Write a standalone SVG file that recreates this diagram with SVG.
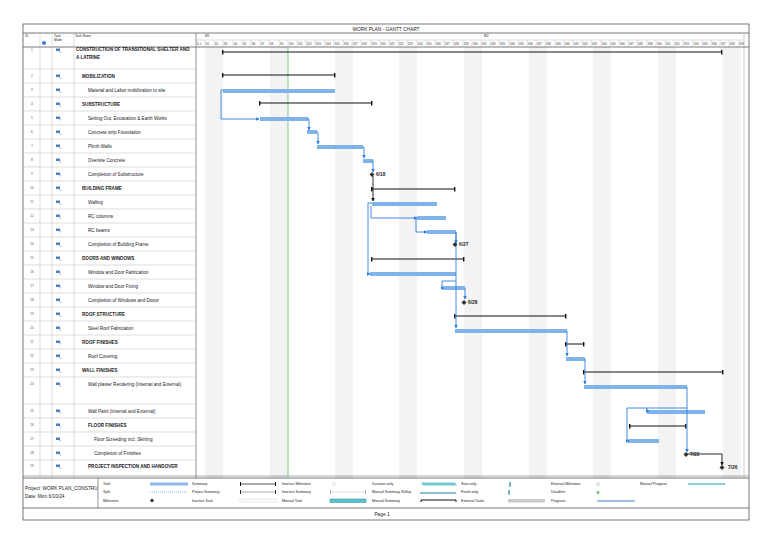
<svg xmlns="http://www.w3.org/2000/svg" width="768" height="543" viewBox="0 0 768 543">
<style>
text{font-family:"Liberation Sans",Arial,sans-serif;fill:#222}
.t{font-size:4.6px}
.b{font-size:4.6px;font-weight:bold}
.s{font-size:3.2px;fill:#555}
.l{font-size:3.6px;fill:#333}
.grid{stroke:#bbb;stroke-width:0.5}
.task{fill:#7fb3ea}
.sum{stroke:#111;stroke-width:1;fill:none}
.cap{fill:#111}
.con{stroke:#2f7fe0;stroke-width:0.9;fill:none}
.conk{stroke:#111;stroke-width:0.9;fill:none}
.ms{fill:#333}
.ml{font-size:4.8px;font-weight:bold}
</style>
<defs>
<marker id="a" markerWidth="4" markerHeight="4" refX="3.5" refY="2" orient="auto"><path d="M0,0 L4,2 L0,4z" fill="#2f7fe0"/></marker>
<marker id="k" markerWidth="4" markerHeight="4" refX="3.5" refY="2" orient="auto"><path d="M0,0 L4,2 L0,4z" fill="#111"/></marker>
<g id="ic"><rect x="0" y="-1.5" width="4" height="2.5" fill="#4a7fc0"/><path d="M3.5,1 L5,2.5" stroke="#4a7fc0" stroke-width="0.8"/></g>
</defs>
<rect width="768" height="543" fill="#fff"/>
<!-- frame -->
<rect x="23" y="24" width="726" height="496" fill="none" stroke="#555" stroke-width="0.8"/>
<line x1="23" y1="33" x2="749" y2="33" stroke="#555" stroke-width="0.8"/>
<text x="386" y="30.5" text-anchor="middle" style="font-size:4.8px">WORK PLAN - GANTT CHART</text>
<!-- chart background bands -->
<g fill="#f3f3f3">
<rect x="205" y="47" width="18" height="431"/><rect x="270" y="47" width="18" height="431"/><rect x="335" y="47" width="18" height="431"/><rect x="399" y="47" width="18" height="431"/><rect x="464" y="47" width="18" height="431"/><rect x="529" y="47" width="18" height="431"/><rect x="593" y="47" width="18" height="431"/><rect x="658" y="47" width="18" height="431"/><rect x="723" y="47" width="18" height="431"/>
</g>
<line x1="744" y1="33" x2="744" y2="478" stroke="#aaa" stroke-width="0.6"/>
<!-- header -->
<line x1="23" y1="47" x2="749" y2="47" stroke="#555" stroke-width="0.8"/>
<g class="s">
<text x="25" y="37">ID</text>
<text x="54" y="37">Task</text><text x="54" y="41">Mode</text>
<text x="75" y="37">Task Name</text>
<text x="205" y="37">M1</text>
<text x="484" y="37">M2</text>
</g>
<circle cx="44" cy="43" r="2" fill="#3b7dd8"/>
<line x1="196" y1="40" x2="744" y2="40" class="grid"/>
<g id="days" class="s" style="font-size:2.6px">
<text x="197" y="45">D-1</text><text x="206" y="45">D1</text><text x="215" y="45">D2</text><text x="224" y="45">D3</text><text x="234" y="45">D4</text><text x="243" y="45">D5</text><text x="252" y="45">D6</text><text x="261" y="45">D7</text><text x="270" y="45">D8</text><text x="280" y="45">D9</text><text x="289" y="45">D10</text><text x="298" y="45">D11</text><text x="307" y="45">D12</text><text x="316" y="45">D13</text><text x="326" y="45">D14</text><text x="335" y="45">D15</text><text x="344" y="45">D16</text><text x="353" y="45">D17</text><text x="362" y="45">D18</text><text x="372" y="45">D19</text><text x="381" y="45">D20</text><text x="390" y="45">D21</text><text x="399" y="45">D22</text><text x="408" y="45">D23</text><text x="418" y="45">D24</text><text x="427" y="45">D25</text><text x="436" y="45">D26</text><text x="445" y="45">D27</text><text x="454" y="45">D28</text><text x="464" y="45">D29</text><text x="473" y="45">D30</text><text x="482" y="45">D31</text><text x="491" y="45">D32</text><text x="500" y="45">D33</text><text x="510" y="45">D34</text><text x="519" y="45">D35</text><text x="528" y="45">D36</text><text x="537" y="45">D37</text><text x="546" y="45">D38</text><text x="556" y="45">D39</text><text x="565" y="45">D40</text><text x="574" y="45">D41</text><text x="583" y="45">D42</text><text x="592" y="45">D43</text><text x="602" y="45">D44</text><text x="611" y="45">D45</text><text x="620" y="45">D46</text><text x="629" y="45">D47</text><text x="638" y="45">D48</text><text x="648" y="45">D49</text><text x="657" y="45">D50</text><text x="666" y="45">D51</text><text x="675" y="45">D52</text><text x="684" y="45">D53</text><text x="694" y="45">D54</text><text x="703" y="45">D55</text><text x="712" y="45">D56</text><text x="721" y="45">D57</text><text x="730" y="45">D58</text><text x="739" y="45">D59</text>
</g>
<path class="grid" d="M205,40V47M214,40V47M223,40V47M233,40V47M242,40V47M251,40V47M260,40V47M269,40V47M279,40V47M288,40V47M297,40V47M306,40V47M315,40V47M325,40V47M334,40V47M343,40V47M352,40V47M361,40V47M371,40V47M380,40V47M389,40V47M398,40V47M407,40V47M417,40V47M426,40V47M435,40V47M444,40V47M453,40V47M463,40V47M472,40V47M481,40V47M490,40V47M499,40V47M509,40V47M518,40V47M527,40V47M536,40V47M545,40V47M555,40V47M564,40V47M573,40V47M582,40V47M591,40V47M601,40V47M610,40V47M619,40V47M628,40V47M637,40V47M647,40V47M656,40V47M665,40V47M674,40V47M683,40V47M693,40V47M702,40V47M711,40V47M720,40V47M729,40V47M739,40V47"/>
<!-- table grid -->
<g class="grid">
<line x1="40" y1="33" x2="40" y2="478"/><line x1="52" y1="33" x2="52" y2="478"/><line x1="74" y1="33" x2="74" y2="478"/>
<line x1="196" y1="33" x2="196" y2="478" stroke="#777" stroke-width="0.8"/>
<path d="M23,69H196M23,83H196M23,97H196M23,111H196M23,125H196M23,139H196M23,153H196M23,167H196M23,181H196M23,195H196M23,209H196M23,223H196M23,237H196M23,251H196M23,265H196M23,279H196M23,293H196M23,307H196M23,321H196M23,335H196M23,349H196M23,363H196M23,377H196M23,404H196M23,418H196M23,432H196M23,446H196M23,460H196"/>
</g>
<line x1="23" y1="476" x2="749" y2="476" stroke="#777" stroke-width="0.6"/>
<line x1="23" y1="478" x2="749" y2="478" stroke="#555" stroke-width="0.8"/>
<!-- rows -->
<g id="rows">
<g id="r1"><text class="s" x="32" y="51" text-anchor="middle">1</text><use href="#ic" x="56" y="50"/><text class="b" x="76" y="51">CONSTRUCTION OF TRANSITIONAL SHELTER AND</text><text class="b" x="76" y="59">A LATRINE</text></g>
<g id="r2"><text class="s" x="32" y="77" text-anchor="middle">2</text><use href="#ic" x="56" y="76"/><text class="b" x="82" y="78">MOBILIZATION</text></g>
<g id="r3"><text class="s" x="32" y="91" text-anchor="middle">3</text><use href="#ic" x="56" y="90"/><text class="t" x="88" y="92">Material and Labor mobilization to site</text></g>
<g id="r4"><text class="s" x="32" y="105" text-anchor="middle">4</text><use href="#ic" x="56" y="104"/><text class="b" x="82" y="106">SUBSTRUCTURE</text></g>
<g id="r5"><text class="s" x="32" y="119" text-anchor="middle">5</text><use href="#ic" x="56" y="118"/><text class="t" x="88" y="120">Setting Out, Excavation &amp; Earth Works</text></g>
<g id="r6"><text class="s" x="32" y="133" text-anchor="middle">6</text><use href="#ic" x="56" y="132"/><text class="t" x="88" y="134">Concrete strip Foundation</text></g>
<g id="r7"><text class="s" x="32" y="147" text-anchor="middle">7</text><use href="#ic" x="56" y="146"/><text class="t" x="88" y="148">Plinth Walls</text></g>
<g id="r8"><text class="s" x="32" y="161" text-anchor="middle">8</text><use href="#ic" x="56" y="160"/><text class="t" x="88" y="162">Oversite Concrete</text></g>
<g id="r9"><text class="s" x="32" y="175" text-anchor="middle">9</text><use href="#ic" x="56" y="174"/><text class="t" x="88" y="176">Completion of Substructure</text></g>
<g id="r10"><text class="s" x="32" y="189" text-anchor="middle">10</text><use href="#ic" x="56" y="188"/><text class="b" x="82" y="190">BUILDING FRAME</text></g>
<g id="r11"><text class="s" x="32" y="203" text-anchor="middle">11</text><use href="#ic" x="56" y="202"/><text class="t" x="88" y="204">Walling</text></g>
<g id="r12"><text class="s" x="32" y="217" text-anchor="middle">12</text><use href="#ic" x="56" y="216"/><text class="t" x="88" y="218">RC columns</text></g>
<g id="r13"><text class="s" x="32" y="231" text-anchor="middle">13</text><use href="#ic" x="56" y="230"/><text class="t" x="88" y="232">RC beams</text></g>
<g id="r14"><text class="s" x="32" y="245" text-anchor="middle">14</text><use href="#ic" x="56" y="244"/><text class="t" x="88" y="246">Completion of Building Frame</text></g>
<g id="r15"><text class="s" x="32" y="259" text-anchor="middle">15</text><use href="#ic" x="56" y="258"/><text class="b" x="82" y="260">DOORS AND WINDOWS</text></g>
<g id="r16"><text class="s" x="32" y="273" text-anchor="middle">16</text><use href="#ic" x="56" y="272"/><text class="t" x="88" y="274">Window and Door Fabrication</text></g>
<g id="r17"><text class="s" x="32" y="287" text-anchor="middle">17</text><use href="#ic" x="56" y="286"/><text class="t" x="88" y="288">Window and Door Fixing</text></g>
<g id="r18"><text class="s" x="32" y="301" text-anchor="middle">18</text><use href="#ic" x="56" y="300"/><text class="t" x="88" y="302">Completion of Windows and Dooor</text></g>
<g id="r19"><text class="s" x="32" y="315" text-anchor="middle">19</text><use href="#ic" x="56" y="314"/><text class="b" x="82" y="316">ROOF STRUCTURE</text></g>
<g id="r20"><text class="s" x="32" y="329" text-anchor="middle">20</text><use href="#ic" x="56" y="328"/><text class="t" x="88" y="330">Steel Roof Fabrication</text></g>
<g id="r21"><text class="s" x="32" y="343" text-anchor="middle">21</text><use href="#ic" x="56" y="342"/><text class="b" x="82" y="344">ROOF FINISHES</text></g>
<g id="r22"><text class="s" x="32" y="357" text-anchor="middle">22</text><use href="#ic" x="56" y="356"/><text class="t" x="88" y="358">Roof Covering</text></g>
<g id="r23"><text class="s" x="32" y="371" text-anchor="middle">23</text><use href="#ic" x="56" y="370"/><text class="b" x="82" y="372">WALL FINISHES</text></g>
<g id="r24"><text class="s" x="32" y="385" text-anchor="middle">24</text><use href="#ic" x="56" y="384"/><text class="t" x="88" y="386">Wall plaster Rendering (Internal and External)</text></g>
<g id="r25"><text class="s" x="32" y="412" text-anchor="middle">25</text><use href="#ic" x="56" y="411"/><text class="t" x="88" y="413">Wall Paint (Internal and External)</text></g>
<g id="r26"><text class="s" x="32" y="426" text-anchor="middle">26</text><use href="#ic" x="56" y="425"/><text class="b" x="88" y="427">FLOOR FINISHES</text></g>
<g id="r27"><text class="s" x="32" y="440" text-anchor="middle">27</text><use href="#ic" x="56" y="439"/><text class="t" x="94" y="441">Floor Screeding incl. Skirting</text></g>
<g id="r28"><text class="s" x="32" y="454" text-anchor="middle">28</text><use href="#ic" x="56" y="453"/><text class="t" x="94" y="455">Completion of Finishes</text></g>
<g id="r29"><text class="s" x="32" y="467" text-anchor="middle">29</text><use href="#ic" x="56" y="466"/><text class="b" x="88" y="468">PROJECT INSPECTION AND HANDOVER</text></g>
</g>
<!-- status line -->
<line x1="288" y1="47" x2="288" y2="478" stroke="#7cc07c" stroke-width="0.9"/>
<!-- bars -->
<g id="bars">
<g class="sum">
<path d="M223,52H722"/><path d="M223,75H335"/><path d="M260,103H372"/><path d="M372,189H455"/><path d="M372,259H464"/><path d="M455,316H566"/><path d="M566,344H584"/><path d="M584,372H723"/><path d="M630,426H686"/>
</g>
<g class="cap">
<rect x="222" y="50" width="1.4" height="4.5"/><rect x="721" y="50" width="1.4" height="4.5"/>
<rect x="222" y="73" width="1.4" height="4.5"/><rect x="334" y="73" width="1.4" height="4.5"/>
<rect x="259" y="101" width="1.4" height="4.5"/><rect x="371" y="101" width="1.4" height="4.5"/>
<rect x="371" y="187" width="1.4" height="4.5"/><rect x="454" y="187" width="1.4" height="4.5"/>
<rect x="371" y="257" width="1.4" height="4.5"/><rect x="463" y="257" width="1.4" height="4.5"/>
<rect x="454" y="314" width="1.4" height="4.5"/><rect x="565" y="314" width="1.4" height="4.5"/>
<rect x="565" y="342" width="1.4" height="4.5"/><rect x="583" y="342" width="1.4" height="4.5"/>
<rect x="583" y="370" width="1.4" height="4.5"/><rect x="722" y="370" width="1.4" height="4.5"/>
<rect x="629" y="424" width="1.4" height="4.5"/><rect x="685" y="424" width="1.4" height="4.5"/>
</g>
<g class="task">
<rect x="223" y="89" width="112" height="4"/>
<rect x="260" y="117" width="48" height="4"/>
<rect x="307" y="130" width="10" height="4"/>
<rect x="317" y="145" width="46" height="4"/>
<rect x="363" y="159" width="10" height="4"/>
<rect x="372" y="202" width="65" height="4"/>
<rect x="417" y="216" width="29" height="4"/>
<rect x="427" y="230" width="29" height="4"/>
<rect x="370" y="272" width="86" height="4"/>
<rect x="443" y="286" width="22" height="4"/>
<rect x="455" y="329" width="112" height="4"/>
<rect x="566" y="357" width="19" height="4"/>
<rect x="584" y="385" width="103" height="4"/>
<rect x="647" y="410" width="58" height="4"/>
<rect x="628" y="439" width="31" height="4"/>
</g>
</g>
<!-- connectors -->
<g id="connectors">
<path class="con" d="M223,90H221V119H259" marker-end="url(#a)"/>
<path class="con" d="M307,119H309V130" marker-end="url(#a)"/>
<path class="con" d="M317,132H318V144" marker-end="url(#a)"/>
<path class="con" d="M363,147H364V158" marker-end="url(#a)"/>
<path class="con" d="M372,161H373V172" marker-end="url(#a)"/>
<path class="conk" d="M373,176V201" marker-end="url(#k)"/>
<path class="con" d="M372,203H368V274H370" marker-end="url(#a)"/>
<path class="con" d="M371,206V218H417" marker-end="url(#a)"/>
<path class="con" d="M416,218V232H427" marker-end="url(#a)"/>
<path class="con" d="M456,232V243" marker-end="url(#a)"/>
<path class="con" d="M456,232V328" marker-end="url(#a)"/>
<path class="con" d="M456,281H442V288H444" marker-end="url(#a)"/>
<path class="con" d="M465,288V299" marker-end="url(#a)"/>
<path class="con" d="M567,331V356" marker-end="url(#a)"/>
<path class="con" d="M585,359V384" marker-end="url(#a)"/>
<path class="con" d="M687,387V452" marker-end="url(#a)"/>
<path class="con" d="M687,408H627V441H629" marker-end="url(#a)"/>
<path class="con" d="M647,408V411H649" marker-end="url(#a)"/>
<path class="conk" d="M686,454H722V465" marker-end="url(#k)"/>
</g>
<!-- milestones -->
<g id="milestones">
<path class="ms" d="M372,172l2.5,2.5l-2.5,2.5l-2.5,-2.5z"/><text class="ml" x="376" y="176">6/18</text>
<path class="ms" d="M455,242l2.5,2.5l-2.5,2.5l-2.5,-2.5z"/><text class="ml" x="459" y="246">6/27</text>
<path class="ms" d="M464,300l2.5,2.5l-2.5,2.5l-2.5,-2.5z"/><text class="ml" x="468" y="304">6/28</text>
<path class="ms" d="M686,452l2.5,2.5l-2.5,2.5l-2.5,-2.5z"/><text class="ml" x="690" y="456">7/22</text>
<path class="ms" d="M722,465l2.5,2.5l-2.5,2.5l-2.5,-2.5z"/><text class="ml" x="728" y="469">7/26</text>
</g>
<!-- legend -->
<g id="legend">
<line x1="98" y1="478" x2="98" y2="508" stroke="#555" stroke-width="0.6"/>
<line x1="23" y1="508" x2="749" y2="508" stroke="#555" stroke-width="0.8"/>
<text x="25" y="490" style="font-size:4.8px">Project: WORK PLAN_CONSTRU</text>
<text x="25" y="498" style="font-size:4.8px">Date: Mon 6/10/24</text>
<g class="l">
<text x="103" y="485">Task</text><text x="103" y="493">Split</text><text x="103" y="502">Milestone</text>
<text x="192" y="485">Summary</text><text x="192" y="493">Project Summary</text><text x="192" y="502">Inactive Task</text>
<text x="282" y="485">Inactive Milestone</text><text x="282" y="493">Inactive Summary</text><text x="282" y="502">Manual Task</text>
<text x="372" y="485">Duration-only</text><text x="372" y="493">Manual Summary Rollup</text><text x="372" y="502">Manual Summary</text>
<text x="461" y="485">Start-only</text><text x="461" y="493">Finish-only</text><text x="461" y="502">External Tasks</text>
<text x="551" y="485">External Milestone</text><text x="551" y="493">Deadline</text><text x="551" y="502">Progress</text>
<text x="640" y="485">Manual Progress</text>
</g>
<rect x="150" y="482.5" width="38" height="3" fill="#8db9ec"/>
<line x1="150" y1="492" x2="188" y2="492" stroke="#8db9ec" stroke-width="1" stroke-dasharray="1,1"/>
<path d="M152,498.5l2,2l-2,2l-2,-2z" fill="#222"/>
<path d="M241,484H276" stroke="#555" stroke-width="1"/><rect x="240" y="482" width="1" height="4" fill="#111"/><rect x="275" y="482" width="1" height="4" fill="#111"/>
<path d="M241,492H276" stroke="#aaa" stroke-width="1"/><rect x="240" y="490" width="1" height="4" fill="#333"/><rect x="275" y="490" width="1" height="4" fill="#333"/>
<rect x="240" y="499" width="36" height="3" fill="#fff" stroke="#ccc" stroke-width="0.5"/>
<path d="M334,482.5l1.7,1.7l-1.7,1.7l-1.7,-1.7z" fill="none" stroke="#bbb" stroke-width="0.5"/>
<path d="M331,492H366" stroke="#ddd" stroke-width="1"/><rect x="330" y="490" width="0.8" height="4" fill="#999"/><rect x="365" y="490" width="0.8" height="4" fill="#999"/>
<rect x="330" y="499" width="36" height="3.5" fill="#5bc3cf" stroke="#1a8a98" stroke-width="0.5"/>
<path d="M421,482.5H455L457,485.5H423z" fill="#70c8d3"/>
<line x1="420" y1="493" x2="456" y2="493" stroke="#1a7fa0" stroke-width="1.2"/>
<path d="M421,502V500H456V502" stroke="#111" stroke-width="1" fill="none"/>
<path d="M510,482V486H509" stroke="#1a8a98" stroke-width="1.2" fill="none"/>
<path d="M509,490V494H510" stroke="#1a8a98" stroke-width="1.2" fill="none"/>
<rect x="508" y="499" width="37" height="3.5" fill="#c9c9c9"/>
<path d="M598,482.5l1.7,1.7l-1.7,1.7l-1.7,-1.7z" fill="none" stroke="#888" stroke-width="0.5"/>
<path d="M598,490.5l1.5,2l-1.5,2l-1.5,-2z" fill="#5cb85c"/>
<line x1="597" y1="501" x2="635" y2="501" stroke="#3b82d6" stroke-width="1.2"/>
<line x1="688" y1="484" x2="725" y2="484" stroke="#1a9aa8" stroke-width="1.2"/>
</g>
<text x="382" y="516" text-anchor="middle" style="font-size:4.8px">Page 1</text>
</svg>
